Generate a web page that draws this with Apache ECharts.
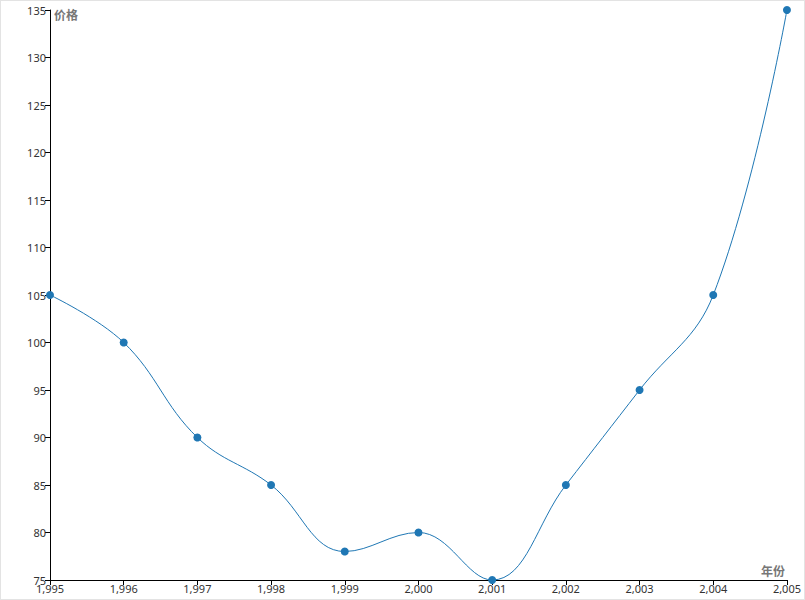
<!DOCTYPE html>
<html><head><meta charset="utf-8">
<script src="https://cdn.jsdelivr.net/npm/echarts@6/dist/echarts.min.js"></script>
<style>
html,body{margin:0;padding:0;background:#fff;}
#c{width:803px;height:598px;border:1px solid #e3e3e3;}
</style></head>
<body><div id="c"></div>
<script>
const years = [1995, 1996, 1997, 1998, 1999, 2000, 2001, 2002, 2003, 2004, 2005];
const prices = [105, 100, 90, 85, 78, 80, 75, 85, 95, 105, 135];
const xName = '年份';
const yName = '价格';

const chart = echarts.init(document.getElementById('c'), null, {renderer: 'svg'});
const font = '"Segoe UI", "Noto Sans", "Noto Sans CJK SC", sans-serif';
chart.setOption({
  animation: false,
  grid: {left: 49, right: 14, top: 9, bottom: 19},
  xAxis: {
    type: 'value', min: 1995, max: 2005, interval: 1,
    name: xName, nameLocation: 'end', nameGap: 0,
    nameTextStyle: {color: '#777', fontWeight: 'bold', fontSize: 12, fontFamily: '"Noto Sans CJK SC", sans-serif', align: 'right', verticalAlign: 'bottom', padding: [0, 2, 4, 0]},
    axisLine: {lineStyle: {color: '#000', width: 1}},
    axisTick: {show: true, length: 5, lineStyle: {color: '#000'}},
    axisLabel: {color: '#333', fontSize: 11, fontFamily: font, margin: 3, formatter: v => v.toLocaleString('en-US')},
    splitLine: {show: false}
  },
  yAxis: {
    type: 'value', min: 75, max: 135, interval: 5,
    name: yName, nameLocation: 'end', nameGap: 0,
    nameTextStyle: {color: '#777', fontWeight: 'bold', fontSize: 12, fontFamily: '"Noto Sans CJK SC", sans-serif', align: 'left', verticalAlign: 'top', padding: [-2, 0, 0, 4]},
    axisLine: {show: true, lineStyle: {color: '#000', width: 1}},
    axisTick: {show: true, length: 5, lineStyle: {color: '#000'}},
    axisLabel: {color: '#333', fontSize: 11, fontFamily: font, margin: 4},
    splitLine: {show: false}
  },
  series: [{
    type: 'line',
    data: years.map((y, i) => [y, prices[i]]),
    smooth: 0.4,
    symbol: 'circle', symbolSize: 8,
    itemStyle: {color: '#1f77b4'},
    lineStyle: {color: '#1f77b4', width: 1}
  }]
});
</script></body></html>
